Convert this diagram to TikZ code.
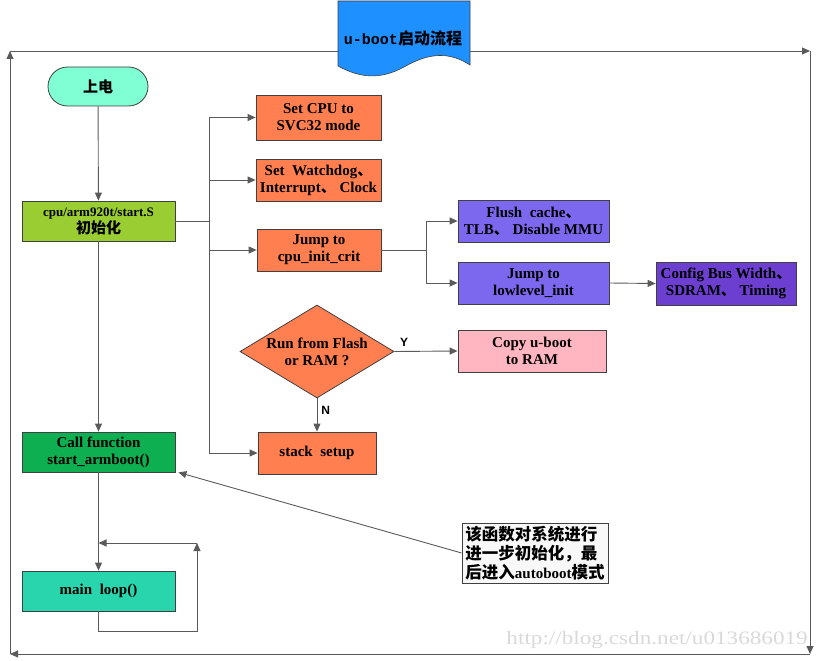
\documentclass[tikz,border=0pt]{standalone}
\usepackage{fontspec}
\setmainfont{Liberation Serif}
\newfontfamily\cjk{Noto Sans CJK SC}
\newfontfamily\ysans{Liberation Sans}
\newfontfamily\ymono{Liberation Mono}
\usetikzlibrary{arrows.meta,shapes.geometric,calc}
\newcommand\mydun{{\cjk\bfseries 、}}
\definecolor{lc}{HTML}{5A5A5A}
\definecolor{bc}{HTML}{404040}
\definecolor{cterm}{HTML}{80FFD4}
\definecolor{cstart}{HTML}{9ACD32}
\definecolor{ccall}{HTML}{0DAF50}
\definecolor{cloop}{HTML}{28D5AC}
\definecolor{corange}{HTML}{FF7F50}
\definecolor{cpurple}{HTML}{7B68EE}
\definecolor{cdeep}{HTML}{6C3FD1}
\definecolor{cpink}{HTML}{FFB6C1}
\definecolor{cblue}{HTML}{1E90FF}
\definecolor{cnote}{HTML}{F8F8F8}
\definecolor{cwm}{HTML}{D9D9D9}
\tikzset{
  x=1pt, y=-1pt,
  boxbase/.style={draw=bc, line width=0.8pt, align=center, inner sep=0pt,
    font=\fontsize{15}{17}\selectfont\bfseries},
  obox/.style={boxbase, fill=corange},
  pbox/.style={boxbase, fill=cpurple},
  line/.style={draw=lc, line width=0.9pt},
  arr/.style={line, -{Triangle[length=8pt,width=7pt]}},
  yn/.style={font=\ysans\bfseries\fontsize{12}{14}\selectfont, inner sep=0pt},
}
\begin{document}
\begin{tikzpicture}
\useasboundingbox (0,0) rectangle (820,661);

% frame corners
\coordinate (ftl) at (10,51);
\coordinate (ftr) at (810,51);
\coordinate (fbr) at (810,654);
\coordinate (fbl) at (10,654);
\draw[arr] (ftl) -- (ftr);
\draw[arr] (ftr) -- (fbr);
\draw[arr] (fbr) -- (fbl);
\draw[arr] (fbl) -- (ftl);

% title document shape
\fill[cblue, draw=bc, line width=0.6pt] (338,1) -- (470,1) -- (470,65)
  .. controls (450,52) and (430,52) .. (404,67)
  .. controls (380,80) and (360,78) .. (338,66) -- cycle;
\node[inner sep=0pt] (title) at (403,38)
  {{\ymono\bfseries\fontsize{15}{17}\selectfont u-boot}{\cjk\bfseries\fontsize{16}{18}\selectfont 启动流程}};

% left column
\node[boxbase, fill=cterm, rounded corners=19.5pt, minimum width=100pt, minimum height=39pt,
  font=\cjk\bfseries\fontsize{15}{17}\selectfont] (power) at (98,86.5) {上电};
\node[boxbase, fill=cstart, minimum width=153pt, minimum height=40pt] (start) at (98.5,221)
  {{\fontsize{13}{16}\selectfont cpu/arm920t/start.S}\\{\cjk\bfseries 初始化}};
\node[boxbase, fill=ccall, minimum width=153pt, minimum height=40pt] (callf) at (98.5,452)
  {Call function\\start\_armboot()};
\node[boxbase, fill=cloop, minimum width=153pt, minimum height=40pt] (mainloop) at (98.5,591)
  {main\ \ loop()};

\draw[arr] (power) -- (start);
\draw[arr] (start) -- (callf);
\draw[arr] (callf) -- (mainloop);
\coordinate (lb) at (197,631);
\coordinate (lp) at (197,543);
\coordinate (lj) at (98.5,543);
\draw[arr] (mainloop.south) |- (lb) -- (lp);
\draw[arr] (lp) -- (lj);

% second column
\node[obox, minimum width=125pt, minimum height=45pt] (setcpu) at (318.5,117.5) {Set CPU to\\SVC32 mode};
\node[obox, minimum width=125pt, minimum height=42pt] (wd) at (318.5,180) {Set\ \ Watchdog\mydun\\Interrupt\mydun\ Clock};
\node[obox, minimum width=124pt, minimum height=42pt] (jump) at (319,250) {Jump to\\cpu\_init\_crit};
\node[obox, diamond, minimum width=154pt, minimum height=93pt, inner sep=-12pt] (dec) at (317,351.5) {Run from Flash\\or RAM ?};
\node[obox, minimum width=118pt, minimum height=42pt] (stack) at (317,453) {stack\ \ setup};

\coordinate (bus) at (209,221);
\draw[line] (start.east) -- (bus);
\draw[arr] (bus) |- (setcpu.west);
\draw[arr] (bus) |- (wd.west);
\draw[arr] (bus) |- (jump.west);
\draw[arr] (bus) |- (stack.west);

\draw[arr] (dec) -- node[yn, right=4pt, pos=0.35] (nlab) {N} (stack);
\node[boxbase, fill=cpink, minimum width=148pt, minimum height=42pt] (copy) at (532,351) {Copy u-boot\\to RAM};
\draw[arr] (dec.east) -- (copy.west);
\node[yn] (ylab) at (404,342) {Y};

% third column
\node[pbox, minimum width=151pt, minimum height=42pt] (flush) at (533.5,221) {Flush\ \ cache\mydun\\TLB\mydun\ Disable MMU};
\node[pbox, minimum width=151pt, minimum height=42pt] (low) at (533.5,283) {Jump to\\lowlevel\_init};
\node[boxbase, fill=cdeep, minimum width=140pt, minimum height=43pt] (config) at (726,283.5) {Config Bus Width\mydun\\SDRAM\mydun\ Timing};

\coordinate (bus2) at (426,250);
\draw[line] (jump.east) -- (bus2);
\draw[arr] (bus2) |- (flush.west);
\draw[arr] (bus2) |- (low.west);
\draw[arr] (low.east) -- (config.west);

% note
\node[draw=bc, fill=cnote, line width=0.8pt, align=left, inner sep=2pt,
  minimum width=146pt, minimum height=60pt,
  font=\cjk\bfseries\fontsize{16.5}{19}\selectfont] (note) at (535,553)
  {该函数对系统进行\\进一步初始化，最\\后进入{\rmfamily\bfseries\fontsize{15}{19}\selectfont autoboot}模式};
\draw[arr] (note.west) -- ([xshift=3pt]callf.south east);

% watermark
\node[text=cwm, inner sep=0pt, anchor=east] (wm) at (808,640)
  {\scalebox{1.22}[1]{\fontsize{19}{20}\selectfont http://blog.csdn.net/u013686019}};
\end{tikzpicture}
\end{document}
